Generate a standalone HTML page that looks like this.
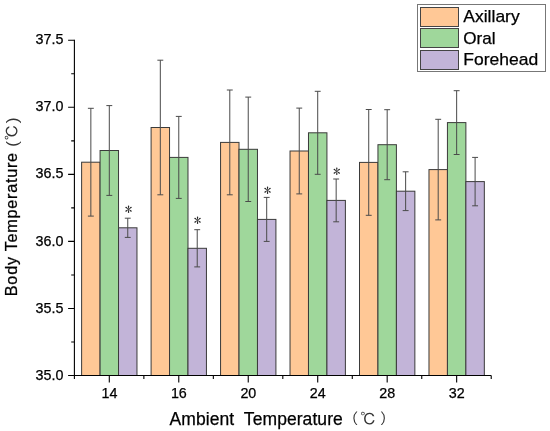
<!DOCTYPE html><html><head><meta charset="utf-8"><title>Body temperature chart</title><style>html,body{margin:0;padding:0;background:#fff;width:550px;height:431px;overflow:hidden}svg{display:block}text{font-family:"Liberation Sans",Arial,sans-serif;fill:#000;stroke:#000;stroke-width:0.25px}.cjk{font-family:"Liberation Sans","IPAGothic",sans-serif;stroke:none;fill:#333}.ast{font-family:"IPAGothic","Liberation Sans",sans-serif;stroke:none;fill:#222}</style></head><body>
<svg width="550" height="431" viewBox="0 0 550 431">
<rect x="81.62" y="162.20" width="18.45" height="213.30" fill="#FFC896" stroke="#3a3a3a" stroke-width="1"/>
<rect x="100.08" y="150.50" width="18.45" height="225.00" fill="#9FD79B" stroke="#3a3a3a" stroke-width="1"/>
<rect x="118.52" y="227.80" width="18.45" height="147.70" fill="#C2B4D8" stroke="#3a3a3a" stroke-width="1"/>
<path d="M90.85 108.30V216.10M87.90 108.30H93.80M87.90 216.10H93.80" stroke="#4a4a4a" stroke-width="1" fill="none"/>
<path d="M109.30 105.60V195.40M106.35 105.60H112.25M106.35 195.40H112.25" stroke="#4a4a4a" stroke-width="1" fill="none"/>
<path d="M127.75 218.20V237.40M124.80 218.20H130.70M124.80 237.40H130.70" stroke="#4a4a4a" stroke-width="1" fill="none"/>
<rect x="151.09" y="127.50" width="18.45" height="248.00" fill="#FFC896" stroke="#3a3a3a" stroke-width="1"/>
<rect x="169.54" y="157.40" width="18.45" height="218.10" fill="#9FD79B" stroke="#3a3a3a" stroke-width="1"/>
<rect x="187.99" y="248.30" width="18.45" height="127.20" fill="#C2B4D8" stroke="#3a3a3a" stroke-width="1"/>
<path d="M160.32 60.20V194.80M157.37 60.20H163.27M157.37 194.80H163.27" stroke="#4a4a4a" stroke-width="1" fill="none"/>
<path d="M178.77 116.40V198.40M175.82 116.40H181.72M175.82 198.40H181.72" stroke="#4a4a4a" stroke-width="1" fill="none"/>
<path d="M197.22 229.70V266.90M194.27 229.70H200.17M194.27 266.90H200.17" stroke="#4a4a4a" stroke-width="1" fill="none"/>
<rect x="220.56" y="142.40" width="18.45" height="233.10" fill="#FFC896" stroke="#3a3a3a" stroke-width="1"/>
<rect x="239.02" y="149.30" width="18.45" height="226.20" fill="#9FD79B" stroke="#3a3a3a" stroke-width="1"/>
<rect x="257.47" y="219.40" width="18.45" height="156.10" fill="#C2B4D8" stroke="#3a3a3a" stroke-width="1"/>
<path d="M229.79 90.00V194.80M226.84 90.00H232.74M226.84 194.80H232.74" stroke="#4a4a4a" stroke-width="1" fill="none"/>
<path d="M248.24 97.10V201.50M245.29 97.10H251.19M245.29 201.50H251.19" stroke="#4a4a4a" stroke-width="1" fill="none"/>
<path d="M266.69 197.40V241.40M263.74 197.40H269.64M263.74 241.40H269.64" stroke="#4a4a4a" stroke-width="1" fill="none"/>
<rect x="290.03" y="151.00" width="18.45" height="224.50" fill="#FFC896" stroke="#3a3a3a" stroke-width="1"/>
<rect x="308.48" y="132.80" width="18.45" height="242.70" fill="#9FD79B" stroke="#3a3a3a" stroke-width="1"/>
<rect x="326.94" y="200.40" width="18.45" height="175.10" fill="#C2B4D8" stroke="#3a3a3a" stroke-width="1"/>
<path d="M299.26 108.10V193.90M296.31 108.10H302.21M296.31 193.90H302.21" stroke="#4a4a4a" stroke-width="1" fill="none"/>
<path d="M317.71 91.30V174.30M314.76 91.30H320.66M314.76 174.30H320.66" stroke="#4a4a4a" stroke-width="1" fill="none"/>
<path d="M336.16 179.00V221.80M333.21 179.00H339.11M333.21 221.80H339.11" stroke="#4a4a4a" stroke-width="1" fill="none"/>
<rect x="359.50" y="162.40" width="18.45" height="213.10" fill="#FFC896" stroke="#3a3a3a" stroke-width="1"/>
<rect x="377.95" y="144.70" width="18.45" height="230.80" fill="#9FD79B" stroke="#3a3a3a" stroke-width="1"/>
<rect x="396.41" y="191.20" width="18.45" height="184.30" fill="#C2B4D8" stroke="#3a3a3a" stroke-width="1"/>
<path d="M368.73 109.50V215.30M365.78 109.50H371.68M365.78 215.30H371.68" stroke="#4a4a4a" stroke-width="1" fill="none"/>
<path d="M387.18 109.70V179.70M384.23 109.70H390.13M384.23 179.70H390.13" stroke="#4a4a4a" stroke-width="1" fill="none"/>
<path d="M405.63 171.80V210.60M402.68 171.80H408.58M402.68 210.60H408.58" stroke="#4a4a4a" stroke-width="1" fill="none"/>
<rect x="428.98" y="169.60" width="18.45" height="205.90" fill="#FFC896" stroke="#3a3a3a" stroke-width="1"/>
<rect x="447.43" y="122.60" width="18.45" height="252.90" fill="#9FD79B" stroke="#3a3a3a" stroke-width="1"/>
<rect x="465.88" y="181.60" width="18.45" height="193.90" fill="#C2B4D8" stroke="#3a3a3a" stroke-width="1"/>
<path d="M438.20 119.30V219.90M435.25 119.30H441.15M435.25 219.90H441.15" stroke="#4a4a4a" stroke-width="1" fill="none"/>
<path d="M456.65 90.70V154.50M453.70 90.70H459.60M453.70 154.50H459.60" stroke="#4a4a4a" stroke-width="1" fill="none"/>
<path d="M475.10 157.40V205.80M472.15 157.40H478.05M472.15 205.80H478.05" stroke="#4a4a4a" stroke-width="1" fill="none"/>
<text class="ast" x="128.45" y="215.25" font-size="15.2" text-anchor="middle">*</text>
<text class="ast" x="197.55" y="225.85" font-size="15.2" text-anchor="middle">*</text>
<text class="ast" x="267.60" y="195.50" font-size="15.2" text-anchor="middle">*</text>
<text class="ast" x="336.75" y="177.15" font-size="15.2" text-anchor="middle">*</text>
<path d="M74.4 39.70V375.5H491.22" stroke="#000" stroke-width="1.1" fill="none"/>
<path d="M68.10 375.50H74.4 M68.10 308.45H74.4 M68.10 241.40H74.4 M68.10 174.35H74.4 M68.10 107.30H74.4 M68.10 40.25H74.4 M71.20 341.98H74.4 M71.20 274.93H74.4 M71.20 207.88H74.4 M71.20 140.83H74.4 M71.20 73.78H74.4 M109.30 375.5V382.50 M178.77 375.5V382.50 M248.24 375.5V382.50 M317.71 375.5V382.50 M387.18 375.5V382.50 M456.65 375.5V382.50 M74.40 375.5V378.90 M143.87 375.5V378.90 M213.34 375.5V378.90 M282.81 375.5V378.90 M352.28 375.5V378.90 M421.75 375.5V378.90 M491.22 375.5V378.90" stroke="#000" stroke-width="1.1" fill="none"/>
<text x="63.4" y="379.60" font-size="14.3" text-anchor="end">35.0</text>
<text x="63.4" y="312.55" font-size="14.3" text-anchor="end">35.5</text>
<text x="63.4" y="245.50" font-size="14.3" text-anchor="end">36.0</text>
<text x="63.4" y="178.45" font-size="14.3" text-anchor="end">36.5</text>
<text x="63.4" y="111.40" font-size="14.3" text-anchor="end">37.0</text>
<text x="63.4" y="44.35" font-size="14.3" text-anchor="end">37.5</text>
<text x="109.40" y="397.9" font-size="14.3" text-anchor="middle">14</text>
<text x="178.87" y="397.9" font-size="14.3" text-anchor="middle">16</text>
<text x="248.34" y="397.9" font-size="14.3" text-anchor="middle">20</text>
<text x="317.81" y="397.9" font-size="14.3" text-anchor="middle">24</text>
<text x="387.28" y="397.9" font-size="14.3" text-anchor="middle">28</text>
<text x="456.75" y="397.9" font-size="14.3" text-anchor="middle">32</text>
<text x="169.6" y="424.6" font-size="17.5" xml:space="preserve" textLength="173.2" lengthAdjust="spacing">Ambient  Temperature</text>
<text class="cjk" x="343.48" y="424.3" font-size="15">（</text>
<text class="cjk" x="360.36" y="425.2" font-size="16">℃</text>
<text class="cjk" x="379.78" y="424.3" font-size="15">）</text>
<g transform="translate(17.0 0) rotate(-90)">
<text x="-296.2" y="0" font-size="16.3" textLength="143.3" lengthAdjust="spacing">Body Temperature</text>
<text class="cjk" x="-146.73" y="0.5" font-size="17.2">(</text>
<text class="cjk" x="-140.14" y="0.7" font-size="16">℃</text>
<text class="cjk" x="-123.17" y="0.5" font-size="17.2">)</text>
</g>
<rect x="417.5" y="4.5" width="128" height="67" fill="#fff" stroke="#777" stroke-width="1"/>
<rect x="420.5" y="7.50" width="38" height="19" fill="#FFC896" stroke="#444" stroke-width="1"/>
<text x="463.3" y="22.40" font-size="16.4" textLength="56.4" lengthAdjust="spacingAndGlyphs">Axillary</text>
<rect x="420.5" y="28.50" width="38" height="19" fill="#9FD79B" stroke="#444" stroke-width="1"/>
<text x="463.3" y="43.65" font-size="16.4" textLength="32.3" lengthAdjust="spacingAndGlyphs">Oral</text>
<rect x="420.5" y="50.50" width="38" height="19" fill="#C2B4D8" stroke="#444" stroke-width="1"/>
<text x="463.3" y="64.90" font-size="16.4" textLength="74.9" lengthAdjust="spacingAndGlyphs">Forehead</text>
</svg></body></html>
